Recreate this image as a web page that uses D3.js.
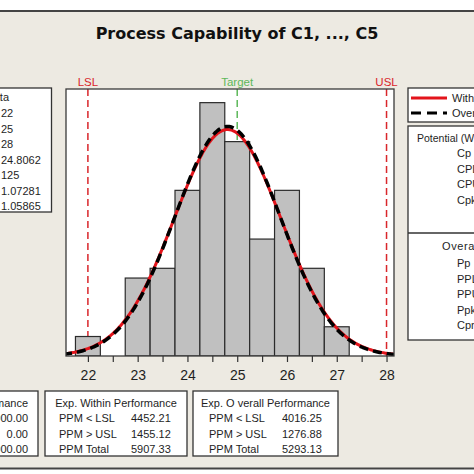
<!DOCTYPE html>
<html><head><meta charset="utf-8">
<script src="https://cdn.jsdelivr.net/npm/d3@7"></script>
<style>body{margin:0;background:#fff}svg{display:block}</style>
</head><body>
<svg id="c" width="474" height="474"></svg>
<script>
// ---- data ----
const binCenters = [22, 22.5, 23, 23.5, 24, 24.5, 25, 25.5, 26, 26.5, 27];
const binCounts  = [2, 0, 8, 9, 17, 26, 22, 12, 17, 9, 3];
const binWidth = 0.5;
const xTicks = [22, 23, 24, 25, 26, 27, 28];
const specNames = ["LSL", "Target", "USL"];
const specValues = [22, 25, 28];
const sampleMean = 24.8062;
const sampleN = 125;
const sdWithin = 1.07281;
const sdOverall = 1.05865;
const processDataValues = ["22", "25", "28", "24.8062", "125", "1.07281", "1.05865"];
const observedValues = ["8000.00", "0.00", "8000.00"];
const perfLabels = ["PPM < LSL", "PPM > USL", "PPM Total"];
const withinValues = ["4452.21", "1455.12", "5907.33"];
const overallValues = ["4016.25", "1276.88", "5293.13"];
const potentialLabels = ["Cp", "CPL", "CPU", "Cpk"];
const overallLabels = ["Pp", "PPL", "PPU", "Ppk", "Cpm"];

const svg = d3.select("#c");
const FONT = "'Liberation Sans', Arial, sans-serif";
const BG = "#EDEAE2";
const TXT = "#1e1e1e";
const fs = 11;

// background
svg.append("rect").attr("x",0).attr("y",0).attr("width",474).attr("height",474).attr("fill","#fff");
svg.append("rect").attr("x",0).attr("y",11).attr("width",474).attr("height",457).attr("fill",BG);
svg.append("line").attr("x1",0).attr("x2",474).attr("y1",11).attr("y2",11).attr("stroke","#444").attr("stroke-width",2);
svg.append("line").attr("x1",0).attr("x2",474).attr("y1",468.5).attr("y2",468.5).attr("stroke","#444").attr("stroke-width",2);

// title
svg.append("text").attr("x",237).attr("y",39).attr("text-anchor","middle")
  .attr("font-family","'DejaVu Sans', sans-serif").attr("font-weight","bold").attr("font-size",16)
  .attr("fill","#111").text("Process Capability of C1, ..., C5");

// plot area
const L = 66, R = 394, T = 89, B = 356;
const x = d3.scaleLinear().domain([21.56, 28.15]).range([L, R]);
const y = d3.scaleLinear().domain([0, 27.4]).range([B, T]);

svg.append("rect").attr("x",L).attr("y",T).attr("width",R-L).attr("height",B-T).attr("fill","#fff");
svg.append("clipPath").attr("id","pc").append("rect").attr("x",L).attr("y",T).attr("width",R-L).attr("height",B-T);
const g = svg.append("g").attr("clip-path","url(#pc)");

// spec lines (behind bars)
const specColor = ["#D9262B", "#5DB85A", "#D9262B"];
g.selectAll("line.spec").data(specValues).join("line").attr("class","spec")
  .attr("x1",d=>x(d)).attr("x2",d=>x(d)).attr("y1",T).attr("y2",B)
  .attr("stroke",(d,i)=>specColor[i]).attr("stroke-width",1.5).attr("stroke-dasharray","7,4");

// bars
g.selectAll("rect.bar").data(binCenters.map((c,i)=>({c, n: binCounts[i]})).filter(d=>d.n>0)).join("rect")
  .attr("class","bar")
  .attr("x",d=>x(d.c-binWidth/2)).attr("width",d=>x(d.c+binWidth/2)-x(d.c-binWidth/2))
  .attr("y",d=>y(d.n)).attr("height",d=>y(0)-y(d.n))
  .attr("fill","#C0C0C0").attr("stroke","#2b2b2b").attr("stroke-width",1.2);

// normal fits (scaled to counts)
function fit(sd){
  const xs = d3.range(21.5, 28.3, 0.02);
  return xs.map(v => [v, sampleN*binWidth*Math.exp(-0.5*((v-sampleMean)/sd)**2)/(sd*Math.sqrt(2*Math.PI))]);
}
const line = d3.line().x(d=>x(d[0])).y(d=>y(d[1]));
g.append("path").attr("d",line(fit(sdWithin))).attr("fill","none").attr("stroke","#E3141B").attr("stroke-width",3);
g.append("path").attr("d",line(fit(sdOverall))).attr("fill","none").attr("stroke","#000").attr("stroke-width",3.5).attr("stroke-dasharray","9,5");

// frame
svg.append("rect").attr("x",L).attr("y",T).attr("width",R-L).attr("height",B-T).attr("fill","none").attr("stroke","#3a3a3a").attr("stroke-width",1.3);

// axis
const ax = svg.append("g").attr("transform",`translate(0,${B})`)
  .call(d3.axisBottom(x).tickValues(d3.range(22, 28.01, 0.5)).tickSize(6).tickSizeOuter(0)
        .tickFormat(d => xTicks.includes(d) ? d : ""));
ax.select(".domain").remove();
ax.selectAll(".tick line").attr("stroke","#333").attr("stroke-width",1.2);
ax.selectAll(".tick text").attr("font-family",FONT).attr("font-size",14).attr("fill",TXT).attr("dy","1.05em");

// spec labels
svg.selectAll("text.spec").data(specValues).join("text").attr("class","spec")
  .attr("x",d=>x(d)).attr("y",86).attr("text-anchor","middle")
  .attr("font-family",FONT).attr("font-size",11.5).attr("fill",(d,i)=>specColor[i])
  .text((d,i)=>specNames[i]);

function txt(xp, yp, s, anchor, size){
  return svg.append("text").attr("x",xp).attr("y",yp).attr("text-anchor",anchor||"start")
    .attr("font-family",FONT).attr("font-size",size||fs).attr("fill",TXT).text(s);
}

// Process data panel (cropped at left)
svg.append("rect").attr("x",-20).attr("y",88).attr("width",71.5).attr("height",124).attr("fill","#fff").attr("stroke","#333").attr("stroke-width",1.3);
txt(9, 101, "Process Data", "end");
processDataValues.forEach((v,i)=>txt(1, 117+i*15.5, v));

// Observed performance (cropped at left)
svg.append("rect").attr("x",-30).attr("y",391).attr("width",68).attr("height",65).attr("fill","#fff").attr("stroke","#333").attr("stroke-width",1.3);
txt(28, 407, "Observed Performance", "end");
observedValues.forEach((v,i)=>txt(28, 422+i*15.5, v, "end"));

function perfBox(x0, w, title, vals, labX, valX){
  svg.append("rect").attr("x",x0).attr("y",391).attr("width",w).attr("height",65).attr("fill","#fff").attr("stroke","#333").attr("stroke-width",1.3);
  txt(x0+w/2, 407, title, "middle");
  vals.forEach((v,i)=>{
    txt(labX, 422+i*15.5, perfLabels[i]);
    txt(valX, 422+i*15.5, v);
  });
}
perfBox(45, 142, "Exp. Within Performance", withinValues, 59, 131);
perfBox(193, 145, "Exp. O verall Performance", overallValues, 209, 282);

// legend (cropped at right)
svg.append("rect").attr("x",408).attr("y",88).attr("width",80).attr("height",34).attr("fill","#fff").attr("stroke","#333").attr("stroke-width",1.3);
svg.append("line").attr("x1",411).attr("x2",447).attr("y1",98).attr("y2",98).attr("stroke","#E3141B").attr("stroke-width",3);
svg.append("line").attr("x1",411).attr("x2",447).attr("y1",113).attr("y2",113).attr("stroke","#000").attr("stroke-width",3).attr("stroke-dasharray","10,6");
txt(452, 102, "Within");
txt(452, 117, "Overall");

// capability panel (cropped at right)
svg.append("rect").attr("x",408).attr("y",126).attr("width",80).attr("height",214).attr("fill","#fff").attr("stroke","#333").attr("stroke-width",1.3);
svg.append("line").attr("x1",408).attr("x2",480).attr("y1",233).attr("y2",233).attr("stroke","#333").attr("stroke-width",1.3);
txt(417, 142, "Potential (Within) Capability", "start", 10.5);
potentialLabels.forEach((t,i)=>txt(457, 157+i*15.5, t));
txt(442, 250, "Overall Capability").attr("letter-spacing",0.6);
overallLabels.forEach((t,i)=>txt(457, 267+i*15.5, t));
</script>
</body></html>
